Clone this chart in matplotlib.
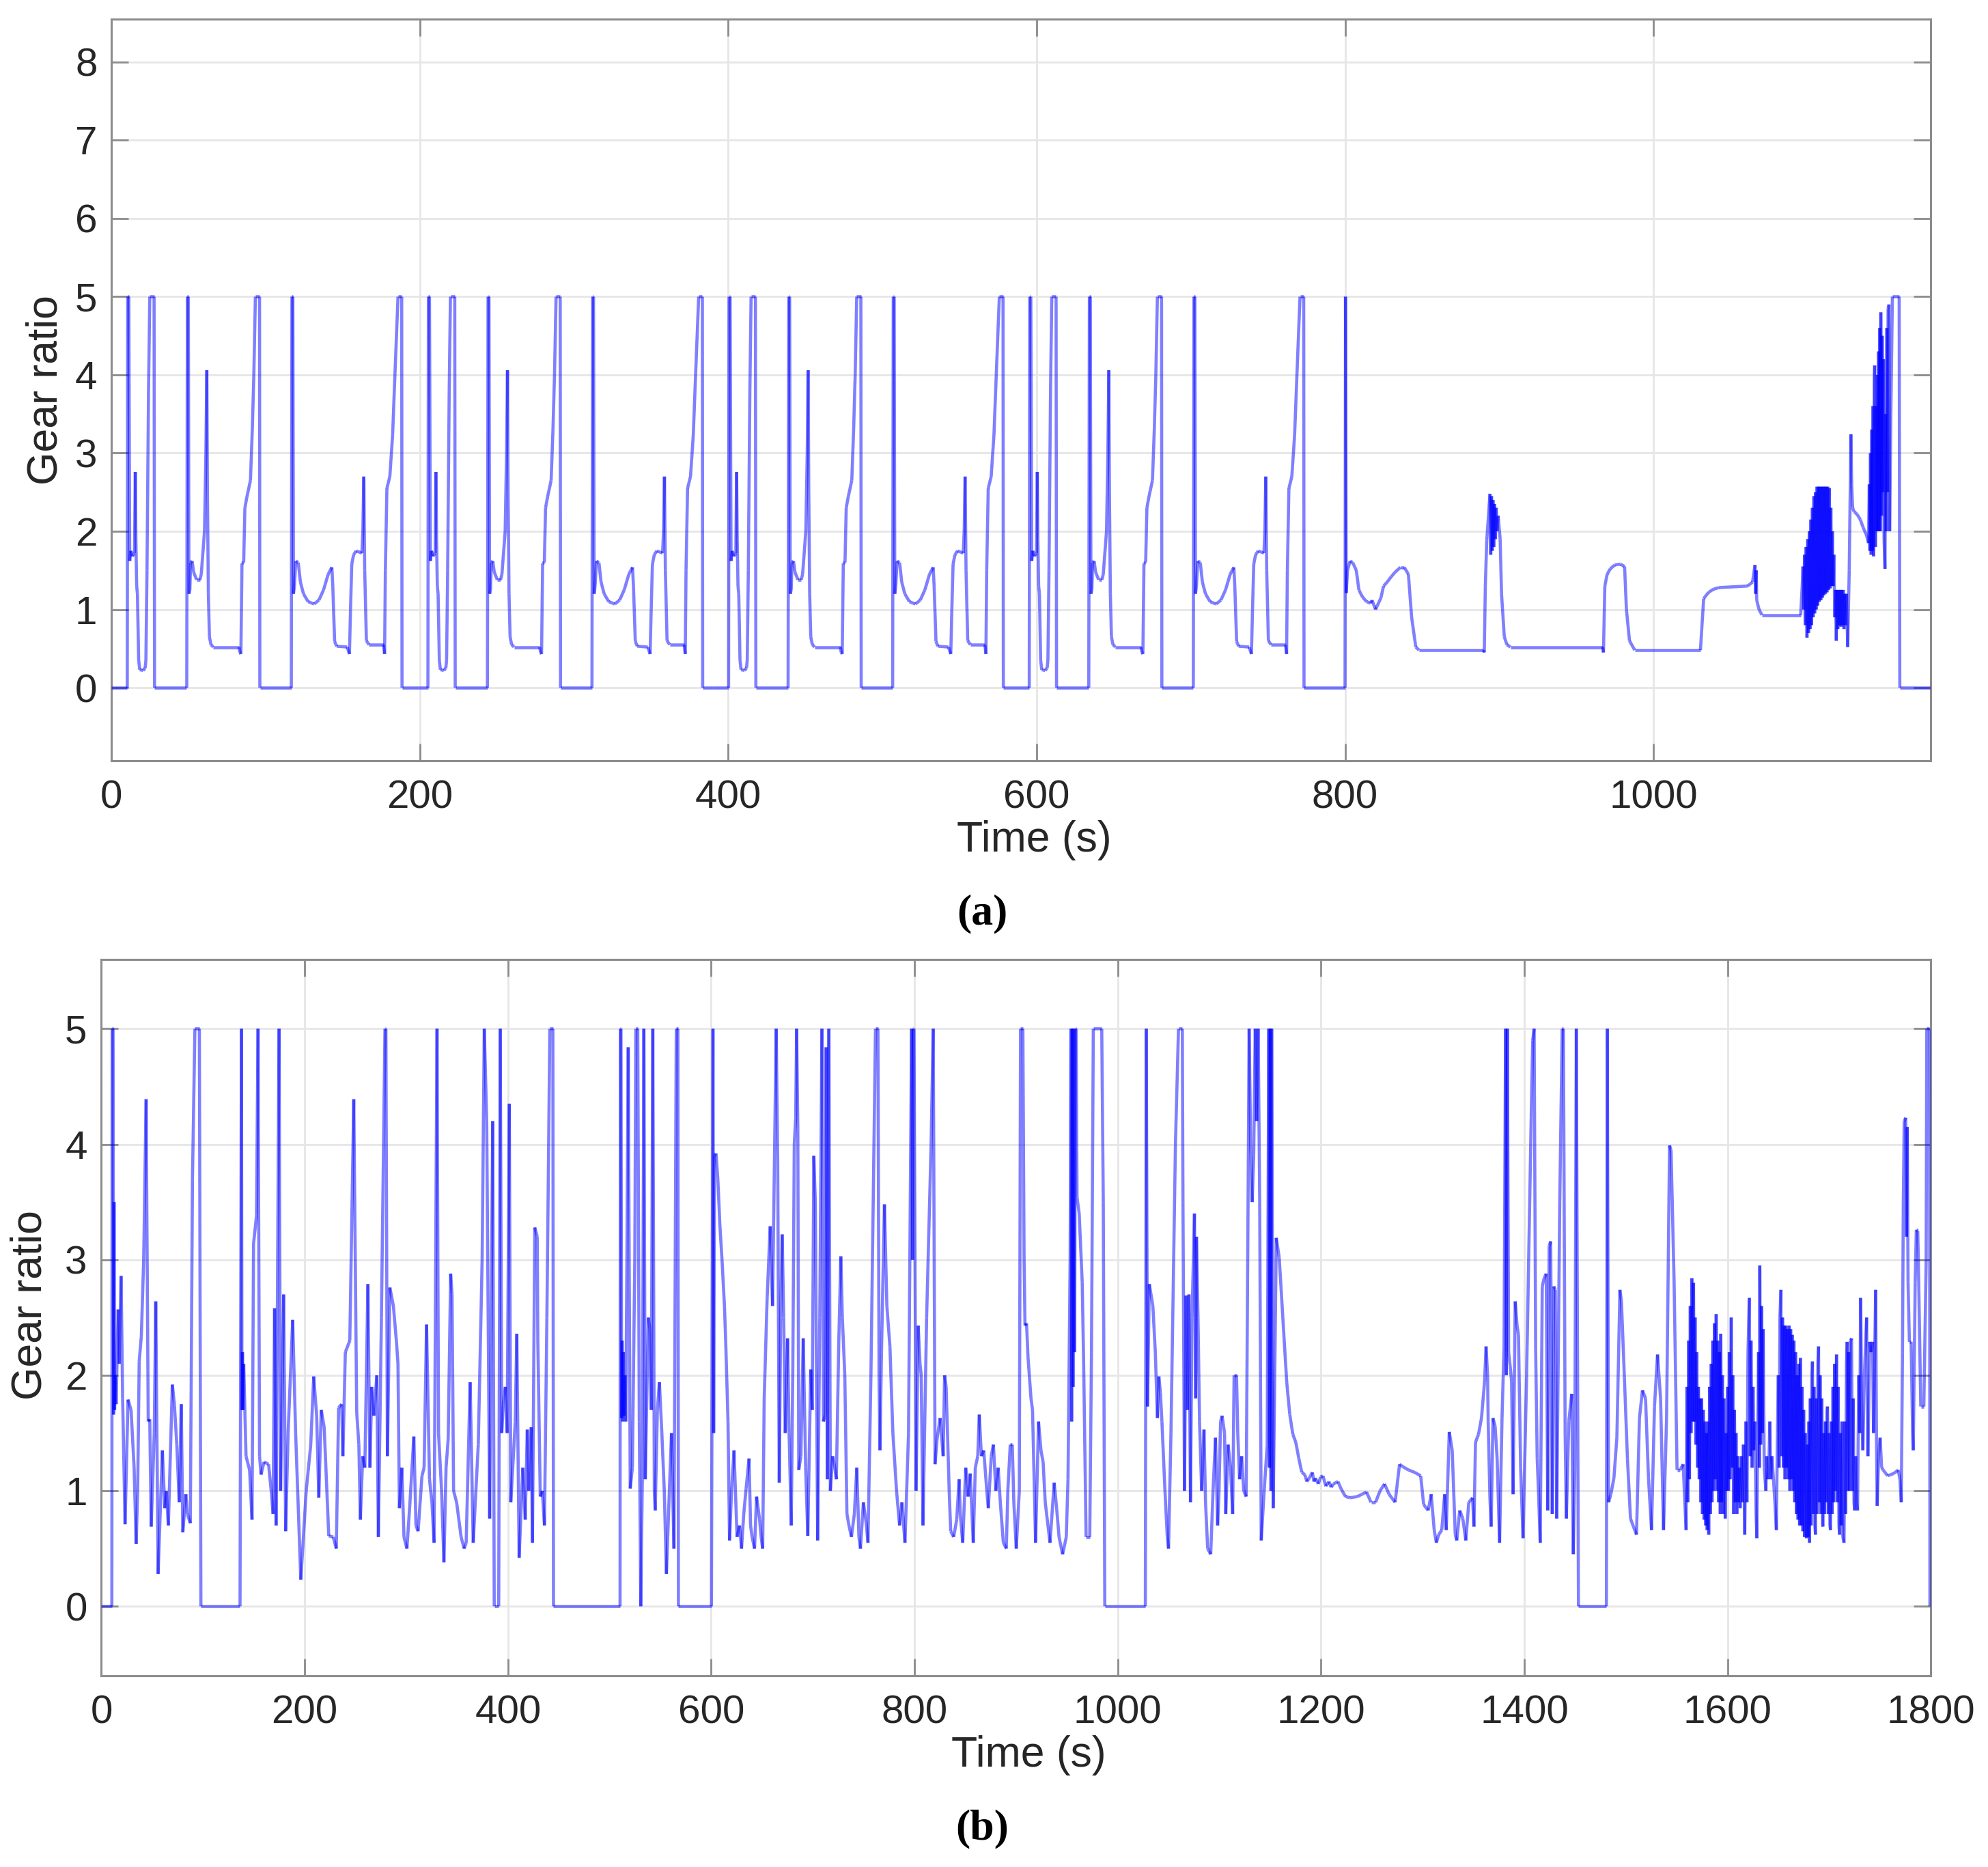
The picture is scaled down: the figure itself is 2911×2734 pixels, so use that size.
import numpy as np
import matplotlib.pyplot as plt
from matplotlib.collections import LineCollection

plt.rcParams['font.family'] = ['Liberation Sans', 'DejaVu Sans']

# ---- (a) NEDC: one urban (ECE) cycle, repeated 4x, then the extra-urban part
ece_cycle = [
    (0.0, 0), (10.2, 0), (10.5, 5), (11.2, 5), (11.8, 1.62), (12.5, 1.75), (13.5, 1.68),
    (14.9, 1.72), (15.4, 2.76), (15.8, 1.9), (16.3, 1.3), (16.8, 1.2), (17.6, 0.35),
    (18.3, 0.23), (20.5, 0.22), (21.8, 0.25), (22.3, 0.35), (23.0, 1.5), (24.0, 3.8),
    (24.8, 5), (27.6, 5), (27.9, 0), (48.8, 0), (49.2, 5), (49.8, 5), (50.2, 1.2),
    (50.8, 1.25), (51.3, 1.6), (52.3, 1.62), (53.2, 1.48), (55.2, 1.38), (57.3, 1.38),
    (58.2, 1.45), (60.3, 2.0), (61.2, 3.0), (61.8, 4.06), (62.2, 2.5), (62.8, 1.2),
    (63.5, 0.65), (64.5, 0.55), (66.0, 0.52), (82.7, 0.52), (83.3, 0.45), (83.9, 0.43),
    (84.6, 1.59), (85.7, 1.6), (86.5, 2.3), (87.9, 2.45), (90.1, 2.65), (91.3, 3.3),
    (92.3, 4.0), (93.3, 5), (96.0, 5), (96.2, 0), (116.6, 0), (117.0, 5), (117.6, 5),
    (118.0, 1.2), (118.6, 1.3), (119.5, 1.62), (121.1, 1.6), (122.5, 1.35), (124.5, 1.2),
    (127.5, 1.1), (131.4, 1.07), (134.5, 1.12), (137.5, 1.25), (140.5, 1.45),
    (142.9, 1.54), (143.5, 1.3), (144.7, 0.59), (146.0, 0.53), (152.8, 0.52),
    (154.3, 0.43), (155.0, 1.0), (155.8, 1.58), (157.0, 1.7), (158.7, 1.75),
    (162.4, 1.72), (163.0, 2.0), (163.6, 2.7), (164.2, 1.5), (165.3, 0.6), (167.0, 0.55),
    (176.4, 0.55), (177.1, 0.43), (177.6, 1.5), (178.6, 2.55), (180.5, 2.7),
    (182.3, 3.23), (183.8, 4.0), (185.8, 5), (188.2, 5), (188.4, 0), (195.0, 0),
]
ece_starts = [0, 195, 390, 585]

eudc = [
    (800.0, 0), (800.3, 5), (800.8, 1.21), (801.6, 1.5), (803.3, 1.62), (805.0, 1.6),
    (807.3, 1.5), (809.0, 1.25), (811.3, 1.16), (814.0, 1.1), (816.6, 1.08),
    (817.5, 1.12), (819.8, 1.0), (823.3, 1.15), (825.0, 1.3), (827.3, 1.35),
    (830.0, 1.42), (832.6, 1.48), (836.0, 1.54), (838.4, 1.54), (841.1, 1.45),
    (843.2, 0.9), (845.9, 0.52), (848.0, 0.48), (889.8, 0.48), (890.3, 0.45),
    (891.0, 1.3), (891.9, 1.88), (894.0, 2.48), (894.5, 1.7), (895.0, 2.45),
    (895.5, 1.75), (896.0, 2.4), (896.5, 1.8), (897.0, 2.35), (897.5, 1.9), (898.0, 2.3),
    (898.6, 2.0), (899.3, 2.2), (900.6, 1.9), (901.5, 1.2), (903.3, 0.65), (905.0, 0.55),
    (907.3, 0.52), (967.1, 0.52), (967.6, 0.45), (968.5, 1.3), (970.0, 1.45),
    (972.0, 1.52), (975.0, 1.57), (978.6, 1.58), (981.3, 1.55), (982.5, 1.0),
    (984.5, 0.6), (987.9, 0.48), (1030.5, 0.48), (1032.6, 1.14), (1035.8, 1.22),
    (1039.0, 1.26), (1042.5, 1.28), (1061.1, 1.3), (1064.3, 1.35), (1065.9, 1.57),
    (1066.3, 1.2), (1066.7, 1.5), (1067.0, 1.12), (1068.5, 1.0), (1070.4, 0.93),
    (1095.5, 0.93), (1096.5, 1.3), (1097.0, 1.55), (1097.5, 1.0), (1098.0, 1.7),
    (1098.5, 0.8), (1099.0, 1.8), (1099.6, 0.64), (1100.1, 1.9), (1100.6, 0.7),
    (1101.1, 2.0), (1101.6, 0.75), (1102.1, 2.15), (1102.6, 0.8), (1103.1, 2.3),
    (1103.6, 0.9), (1104.1, 2.45), (1104.6, 0.95), (1105.1, 2.5), (1105.6, 1.0),
    (1106.1, 2.57), (1106.6, 1.05), (1107.1, 2.57), (1107.6, 1.1), (1108.1, 2.57),
    (1108.6, 1.12), (1109.1, 2.57), (1109.6, 1.15), (1110.1, 2.57), (1110.6, 1.18),
    (1111.1, 2.57), (1111.6, 1.2), (1112.1, 2.57), (1112.6, 1.22), (1113.1, 2.57),
    (1113.6, 1.25), (1114.1, 2.55), (1114.6, 1.27), (1115.1, 2.3), (1115.6, 1.3),
    (1116.1, 2.0), (1116.6, 1.3), (1117.1, 1.7), (1117.6, 0.9), (1118.1, 1.25),
    (1118.6, 0.6), (1119.1, 1.25), (1119.6, 0.75), (1120.1, 1.25), (1120.6, 0.8),
    (1121.1, 1.25), (1121.6, 0.78), (1122.1, 1.25), (1122.6, 0.8), (1123.1, 1.25),
    (1123.6, 0.75), (1124.1, 1.2), (1124.6, 0.8), (1125.2, 1.2), (1126.0, 0.52),
    (1127.0, 1.5), (1128.1, 3.24), (1128.6, 2.6), (1129.2, 2.3), (1130.2, 2.25),
    (1132.0, 2.22), (1134.2, 2.15), (1136.0, 2.05), (1138.2, 1.95), (1139.5, 1.85),
    (1140.0, 2.6), (1140.4, 1.75), (1140.8, 3.0), (1141.2, 1.7), (1141.6, 3.3),
    (1142.0, 1.75), (1142.4, 3.6), (1142.8, 1.68), (1143.2, 3.9), (1143.5, 4.12),
    (1144.0, 1.8), (1144.4, 3.6), (1144.8, 2.0), (1145.2, 4.0), (1145.6, 2.0),
    (1146.0, 4.3), (1146.4, 2.0), (1146.8, 4.6), (1147.2, 2.0), (1147.5, 4.8),
    (1148.0, 2.2), (1148.4, 4.5), (1148.8, 2.5), (1149.2, 4.2), (1149.6, 1.9),
    (1150.2, 1.52), (1150.6, 3.5), (1151.0, 2.0), (1151.4, 4.6), (1151.8, 2.5),
    (1152.2, 4.85), (1152.8, 4.9), (1153.2, 2.0), (1154.0, 3.5), (1155.0, 5),
    (1159.4, 5), (1159.8, 0), (1180.0, 0),
]

# ---- (b) WLTC, read in four chunks
wltc_1 = [
    (0.0, 0), (10.3, 0), (10.6, 5), (11.5, 5), (12.0, 1.66), (12.5, 3.5), (13.0, 1.7),
    (13.5, 2.0), (14.5, 1.75), (16.5, 2.57), (17.5, 2.1), (19.4, 2.86), (20.9, 1.8),
    (23.3, 0.71), (26.2, 1.79), (29.2, 1.7), (32.2, 1.2), (34.2, 0.54), (35.7, 1.0),
    (37.2, 2.12), (39.3, 2.34), (41.6, 3.0), (44.0, 4.39), (46.1, 1.6), (47.6, 1.62),
    (49.0, 0.69), (52.0, 1.5), (53.5, 2.64), (55.8, 0.28), (60.0, 1.35), (62.4, 0.85),
    (63.8, 1.0), (65.9, 0.7), (69.8, 1.92), (71.8, 1.75), (74.2, 1.4), (76.6, 0.9),
    (78.6, 1.75), (80.1, 0.64), (83.1, 0.97), (84.6, 0.8), (87.5, 0.72), (89.6, 3.7),
    (92.0, 5), (96.4, 5), (97.9, 0), (136.4, 0), (137.8, 5), (138.3, 1.7), (138.8, 2.2),
    (139.3, 1.7), (140.0, 2.1), (142.3, 1.3), (145.8, 1.18), (148.2, 0.75),
    (149.7, 3.14), (152.6, 3.38), (154.1, 5), (155.6, 1.3), (157.1, 1.14), (160.0, 1.25),
    (164.5, 1.23), (167.4, 0.97), (168.9, 0.8), (170.4, 2.58), (171.9, 0.7),
    (173.4, 3.0), (174.8, 5), (176.3, 1.0), (179.3, 2.7), (181.3, 0.65), (183.7, 1.5),
    (188.2, 2.48), (191.1, 1.5), (196.2, 0.23), (201.5, 1.0), (205.9, 1.39),
    (208.9, 1.99), (211.8, 1.65), (213.9, 0.94), (216.3, 1.7), (219.2, 1.55),
    (223.7, 0.61), (228.1, 0.6), (231.1, 0.5), (233.4, 1.72), (236.4, 1.75),
    (237.6, 1.3), (240.0, 2.2), (244.4, 2.3), (248.3, 4.39), (251.2, 1.68), (253.3, 1.4),
    (254.8, 0.75), (257.1, 1.3), (259.2, 1.2), (262.2, 2.79), (264.2, 1.2), (266.0, 1.9),
    (268.1, 1.65), (271.0, 2.0), (272.5, 0.6), (275.5, 2.5), (279.0, 5), (279.9, 5),
    (281.4, 1.3), (283.8, 2.76), (287.3, 2.6), (290.3, 2.29), (291.8, 2.1),
    (293.2, 0.85), (295.6, 1.2), (297.7, 0.6), (300.6, 0.5), (303.6, 0.9), (307.4, 1.47),
    (309.5, 0.7), (311.6, 0.65), (315.4, 1.13), (317.5, 1.2), (319.9, 2.44),
    (322.8, 1.1), (325.2, 0.9), (327.3, 0.55), (330.2, 5), (331.7, 1.5), (334.7, 1.0),
    (337.0, 0.38), (339.1, 1.2), (341.2, 1.45), (343.6, 2.88), (345.0, 2.7),
    (346.5, 1.0), (349.5, 0.9), (353.9, 0.6), (356.9, 0.5), (358.9, 0.55),
    (362.8, 1.94), (365.8, 0.55), (370.8, 1.4), (374.6, 3.0), (376.7, 5), (379.1, 4.2),
    (382.0, 0.76), (385.0, 4.2), (386.5, 0), (390.9, 0), (392.4, 5), (393.9, 1.5),
    (395.4, 1.75), (397.4, 1.9), (399.2, 1.5), (401.3, 4.35), (402.8, 0.9),
    (407.2, 1.6), (408.7, 2.36), (411.0, 0.42), (414.6, 1.2), (417.0, 0.75),
    (419.0, 1.53), (420.5, 1.0), (422.9, 1.55), (424.1, 0.55), (426.4, 3.28),
    (428.8, 3.2), (429.4, 2.3), (431.8, 0.95), (433.8, 1.0), (435.9, 0.7), (438.3, 2.5),
    (441.2, 5), (444.2, 5), (444.8, 0),
]
wltc_2 = [
    (510.3, 0), (510.6, 5), (511.2, 5), (511.8, 1.63), (512.3, 2.3), (512.8, 1.6),
    (513.5, 2.2), (514.2, 1.65), (515.2, 2.0), (515.9, 1.6), (517.0, 3.0), (518.3, 4.84),
    (520.3, 1.02), (522.4, 1.2), (524.8, 3.0), (525.8, 5), (527.7, 5), (529.2, 1.6),
    (530.7, 0), (532.2, 1.1), (533.7, 5), (535.1, 1.1), (538.1, 2.5), (539.6, 2.4),
    (541.0, 1.7), (542.5, 5), (544.0, 1.0), (544.9, 0.83), (547.0, 1.7), (549.0, 1.94),
    (551.4, 1.5), (553.8, 1.0), (555.9, 0.28), (558.8, 1.0), (560.9, 1.5), (563.3, 0.5),
    (565.6, 5), (567.2, 5), (567.7, 0), (600.2, 0), (601.7, 5), (602.4, 1.5),
    (603.2, 3.9), (604.7, 3.92), (606.5, 3.7), (608.5, 3.3), (610.6, 3.0), (613.0, 2.6),
    (614.2, 2.3), (616.5, 1.6), (618.0, 0.57), (620.0, 1.0), (622.4, 1.35),
    (625.4, 0.6), (627.8, 0.7), (629.8, 0.5), (632.0, 0.8), (634.3, 1.02), (637.2, 1.28),
    (638.7, 0.7), (640.2, 0.6), (642.6, 0.5), (644.6, 0.95), (647.6, 0.75),
    (649.1, 0.6), (650.6, 0.5), (652.1, 1.8), (655.0, 2.67), (658.0, 3.29), (660.3, 2.6),
    (662.4, 4.0), (663.9, 5), (665.4, 3.85), (666.9, 1.07), (668.3, 2.5), (669.8, 3.22),
    (671.3, 2.5), (672.8, 1.5), (675.1, 2.32), (676.6, 1.5), (678.7, 0.7), (680.2, 2.0),
    (681.7, 4.0), (683.1, 4.23), (684.0, 5), (685.2, 4.13), (686.1, 1.18), (688.2, 1.3),
    (690.5, 2.32), (692.9, 1.2), (695.0, 0.61), (697.9, 2.05), (699.4, 1.7),
    (700.9, 3.9), (702.4, 3.5), (704.7, 0.57), (706.8, 2.5), (708.9, 5), (710.4, 1.6),
    (712.1, 1.66), (713.0, 4.84), (714.2, 1.1), (715.7, 5), (717.2, 1.0), (719.5, 1.3),
    (721.6, 1.2), (723.1, 1.1), (725.5, 2.3), (727.5, 3.03), (729.0, 2.5), (731.4, 2.0),
    (733.5, 0.8), (735.5, 0.7), (737.9, 0.6), (740.8, 0.8), (743.2, 1.2), (745.3, 0.6),
    (746.8, 0.5), (749.7, 0.9), (752.7, 0.7), (754.2, 0.55), (757.1, 2.0), (761.6, 5),
    (764.0, 5), (765.1, 2.0), (766.0, 1.35), (767.5, 2.2), (770.4, 3.48), (772.8, 2.6),
    (775.8, 2.25), (778.7, 1.5), (782.3, 1.0), (785.3, 0.7), (787.6, 0.9), (790.6, 0.55),
    (794.1, 1.5), (797.1, 5), (798.0, 3.0), (798.8, 5), (799.5, 5), (801.5, 1.0),
    (803.6, 2.43), (805.4, 2.1), (806.6, 2.0), (808.3, 0.7), (811.9, 2.5), (816.3, 4.0),
    (818.4, 5), (820.2, 1.23), (822.2, 1.45), (825.2, 1.63), (828.2, 1.3), (829.6, 2.0),
    (831.1, 1.9), (834.1, 1.0), (835.6, 0.65), (838.5, 0.6), (841.5, 0.75),
    (843.9, 1.1), (845.0, 0.8), (847.4, 0.55), (850.4, 1.2), (852.7, 0.95),
    (854.8, 1.15), (857.8, 0.55), (859.8, 1.2), (862.2, 1.3), (863.7, 1.66),
    (865.8, 1.3), (868.1, 1.35), (871.1, 1.0), (872.6, 0.85), (875.5, 1.3), (877.6, 1.4),
    (880.0, 1.0), (882.3, 1.2), (884.4, 0.9), (887.4, 0.55), (890.3, 0.5), (891.8, 1.0),
    (894.2, 1.4), (896.2, 1.4), (897.7, 0.9), (900.1, 0.5), (903.1, 1.0),
]
wltc_3 = [
    (904.3, 5), (906.6, 5), (907.8, 3.0), (908.7, 2.43), (910.2, 2.45), (911.7, 2.15),
    (914.6, 1.8), (916.1, 1.7), (919.1, 0.55), (922.0, 1.6), (924.4, 1.35),
    (926.5, 1.25), (928.6, 0.9), (933.3, 0.55), (937.4, 1.07), (939.8, 0.85),
    (942.2, 0.6), (945.7, 0.45), (949.3, 0.6), (951.0, 1.1), (953.1, 3.0), (954.0, 5),
    (954.6, 1.6), (955.3, 5), (956.0, 1.9), (956.8, 5), (957.5, 2.2), (958.3, 5),
    (959.0, 5), (959.9, 3.54), (962.0, 3.4), (963.5, 3.1), (965.0, 2.8), (966.4, 2.1),
    (968.8, 0.6), (972.4, 0.6), (974.1, 2.2), (975.9, 5), (984.2, 5), (985.7, 3.5),
    (987.2, 0), (1027.1, 0), (1028.0, 5), (1029.2, 1.73), (1031.0, 2.79), (1034.5, 2.6),
    (1036.9, 2.2), (1039.0, 1.63), (1040.4, 1.99), (1041.9, 1.85), (1043.4, 1.6),
    (1046.4, 1.0), (1048.7, 0.6), (1049.9, 0.5), (1052.3, 1.5), (1056.7, 4.0),
    (1059.7, 5), (1063.5, 5), (1064.1, 3.5), (1065.6, 1.0), (1067.1, 2.69),
    (1068.6, 1.7), (1070.0, 2.7), (1071.5, 0.9), (1073.0, 2.5), (1075.4, 3.4),
    (1076.6, 1.8), (1077.4, 3.2), (1078.9, 2.5), (1080.4, 1.6), (1082.5, 1.0),
    (1084.8, 1.53), (1086.3, 0.9), (1088.4, 0.5), (1091.4, 0.45), (1093.7, 1.0),
    (1096.1, 1.46), (1098.2, 0.7), (1099.6, 1.0), (1101.1, 1.6), (1102.6, 1.65),
    (1105.0, 1.5), (1106.2, 0.8), (1108.5, 1.4), (1110.9, 1.2), (1113.0, 0.8),
    (1114.4, 2.0), (1116.8, 2.0), (1118.0, 1.5), (1119.8, 1.1), (1121.8, 1.3),
    (1123.9, 1.0), (1126.3, 0.95), (1127.8, 3.0), (1129.2, 5), (1130.7, 4.0),
    (1132.2, 3.5), (1133.7, 3.9), (1135.2, 5), (1136.6, 4.2), (1138.1, 5), (1139.6, 3.5),
    (1141.1, 0.57), (1144.0, 1.0), (1145.5, 1.2), (1147.0, 1.4), (1148.5, 5),
    (1149.2, 1.2), (1150.0, 5), (1150.7, 1.0), (1151.4, 5), (1152.9, 0.85), (1154.4, 2.0),
    (1155.9, 3.19), (1158.8, 3.02), (1163.3, 2.36), (1166.2, 1.94), (1169.2, 1.66),
    (1172.2, 1.49), (1175.1, 1.42), (1178.1, 1.28), (1181.0, 1.16), (1184.0, 1.14),
    (1186.0, 1.08), (1188.4, 1.11), (1191.4, 1.16), (1193.0, 1.08), (1194.4, 1.11),
    (1197.3, 1.06), (1199.5, 1.12), (1201.8, 1.13), (1204.7, 1.04), (1207.7, 1.08),
    (1210.0, 1.03), (1212.1, 1.06), (1216.6, 1.08), (1219.5, 1.02), (1224.0, 0.95),
    (1228.4, 0.94), (1235.8, 0.95), (1240.2, 0.97), (1244.7, 0.99), (1249.1, 0.9),
    (1253.6, 0.9), (1258.0, 1.0), (1262.4, 1.06), (1266.9, 0.97), (1272.8, 0.9),
    (1277.2, 1.23), (1280.2, 1.21), (1286.1, 1.18), (1292.0, 1.16), (1298.0, 1.13),
    (1300.9, 0.88), (1305.4, 0.83), (1308.3, 0.97), (1311.3, 0.66), (1313.4, 0.55),
    (1315.7, 0.62), (1318.7, 0.66), (1321.6, 0.97), (1323.1, 0.66), (1326.1, 1.51),
    (1329.0, 1.35), (1332.0, 0.62), (1333.5, 0.57), (1336.4, 0.83), (1339.4, 0.76),
    (1342.4, 0.57), (1345.3, 0.9),
]
wltc_4 = [
    (1349.0, 0.94), (1350.4, 0.69), (1351.9, 1.42), (1354.9, 1.49), (1357.8, 1.63),
    (1360.8, 1.94), (1362.3, 2.25), (1363.8, 2.0), (1364.4, 1.6), (1366.1, 0.94),
    (1367.3, 0.69), (1369.1, 1.63), (1371.2, 1.56), (1373.2, 1.28), (1375.6, 0.55),
    (1378.0, 1.63), (1380.0, 2.25), (1381.5, 5), (1382.2, 2.0), (1383.3, 5),
    (1384.5, 2.2), (1386.0, 2.08), (1387.4, 1.95), (1388.9, 0.97), (1391.0, 2.64),
    (1392.8, 2.43), (1394.2, 2.35), (1396.3, 1.2), (1398.7, 0.59), (1402.2, 2.0),
    (1406.7, 4.23), (1408.2, 4.9), (1409.6, 5), (1411.1, 2.22), (1412.6, 1.28),
    (1414.1, 0.94), (1415.6, 0.55), (1417.6, 2.77), (1419.4, 2.84), (1421.5, 2.88),
    (1423.0, 0.83), (1424.4, 3.12), (1425.9, 3.16), (1427.4, 0.8), (1428.9, 2.77),
    (1430.4, 2.74), (1431.8, 0.76), (1434.8, 3.5), (1437.2, 5), (1438.4, 5),
    (1440.1, 1.5), (1441.3, 0.76), (1443.7, 1.6), (1446.6, 1.84), (1448.1, 0.45),
    (1449.6, 1.2), (1451.1, 5), (1453.2, 0), (1480.7, 0), (1481.6, 5), (1482.8, 0.9),
    (1485.1, 0.97), (1488.1, 1.11), (1491.0, 1.46), (1494.0, 2.74), (1495.5, 2.64),
    (1498.4, 1.98), (1501.4, 1.28), (1504.4, 0.76), (1507.3, 0.69), (1510.3, 0.62),
    (1513.2, 1.63), (1516.2, 1.87), (1519.2, 1.8), (1522.1, 1.11), (1525.1, 0.66),
    (1528.0, 1.73), (1531.0, 2.18), (1534.0, 1.8), (1536.9, 0.66), (1539.9, 1.63),
    (1541.4, 2.84), (1542.8, 3.99), (1544.3, 3.95), (1547.3, 2.81), (1550.2, 1.18),
    (1553.2, 1.18), (1556.2, 1.23), (1559.1, 0.66), (1560.0, 1.9), (1560.8, 0.9),
    (1561.6, 2.3), (1562.4, 1.1), (1563.2, 2.6), (1564.0, 1.5), (1564.8, 2.84),
    (1565.6, 1.6), (1566.4, 2.8), (1567.2, 1.6), (1568.0, 2.5), (1568.8, 1.4),
    (1569.6, 2.2), (1570.4, 1.2), (1571.2, 1.9), (1572.0, 1.1), (1572.8, 1.8),
    (1573.6, 0.9), (1574.4, 1.8), (1575.2, 0.8), (1576.0, 1.7), (1576.8, 0.75),
    (1577.6, 1.6), (1578.4, 0.7), (1579.2, 1.5), (1579.8, 0.66), (1580.6, 1.6),
    (1581.4, 0.62), (1582.2, 1.9), (1583.0, 0.8), (1583.8, 2.1), (1584.6, 0.9),
    (1585.4, 2.3), (1586.2, 1.0), (1587.0, 2.45), (1587.8, 1.1), (1588.7, 2.53),
    (1589.5, 1.0), (1590.3, 2.3), (1591.1, 0.9), (1591.9, 2.2), (1592.7, 0.8),
    (1593.2, 2.36), (1594.0, 0.9), (1594.8, 2.0), (1595.6, 0.8), (1596.4, 1.8),
    (1597.6, 0.76), (1598.4, 1.5), (1599.2, 1.0), (1600.0, 1.9), (1600.8, 1.0),
    (1601.6, 2.2), (1602.4, 1.1), (1603.5, 2.5), (1604.3, 1.2), (1605.1, 2.0),
    (1605.9, 0.8), (1606.7, 1.7), (1607.5, 0.9), (1608.3, 1.5), (1609.1, 0.8),
    (1609.9, 1.3), (1610.7, 0.9), (1611.5, 1.2), (1612.3, 0.85), (1613.5, 1.3),
    (1614.5, 0.9), (1615.5, 1.4), (1616.8, 0.62), (1618.0, 1.6), (1619.0, 0.9),
    (1620.0, 2.2), (1621.3, 2.67), (1622.2, 1.3), (1623.0, 2.3), (1624.0, 1.2),
    (1625.0, 1.9), (1625.7, 1.35), (1626.8, 1.6), (1628.0, 0.8), (1628.7, 0.59),
    (1629.6, 1.5), (1630.4, 2.2), (1631.2, 1.2), (1631.6, 2.95), (1632.5, 1.4),
    (1633.4, 2.6), (1634.2, 1.5), (1634.9, 2.4), (1636.0, 1.2), (1637.6, 1.0),
    (1638.5, 1.3), (1639.4, 1.1), (1640.5, 1.18), (1641.5, 1.6), (1642.5, 1.1),
    (1643.5, 1.3), (1645.0, 1.11), (1646.5, 0.9), (1647.9, 0.66), (1649.0, 1.5),
    (1649.8, 2.0), (1650.6, 1.2), (1651.4, 2.5), (1652.4, 2.74), (1653.2, 1.3),
    (1654.0, 2.5), (1654.8, 1.2), (1655.6, 2.43), (1656.4, 1.1), (1657.2, 2.43),
    (1658.0, 1.2), (1658.8, 2.4), (1659.6, 1.1), (1660.4, 2.43), (1661.2, 1.0),
    (1662.0, 2.4), (1662.8, 1.1), (1663.6, 2.35), (1664.4, 1.0), (1665.2, 2.3),
    (1666.0, 0.9), (1666.8, 2.2), (1667.6, 0.8), (1668.4, 2.0), (1669.2, 0.75),
    (1670.0, 2.1), (1670.8, 0.7), (1671.6, 2.15), (1672.4, 0.7), (1673.2, 1.9),
    (1674.0, 0.65), (1674.8, 1.7), (1675.6, 0.6), (1676.4, 1.5), (1677.5, 0.59),
    (1678.3, 1.4), (1679.1, 0.6), (1679.9, 1.6), (1680.5, 0.55), (1681.3, 1.8),
    (1682.1, 0.7), (1682.9, 2.0), (1683.4, 2.12), (1684.2, 0.8), (1685.0, 1.9),
    (1685.8, 0.7), (1686.4, 0.62), (1687.2, 1.8), (1688.0, 0.8), (1688.8, 2.1),
    (1689.4, 2.25), (1690.2, 0.9), (1691.0, 2.0), (1691.8, 0.8), (1692.6, 1.8),
    (1693.4, 0.7), (1693.8, 0.69), (1694.6, 1.5), (1695.4, 0.8), (1696.2, 1.6),
    (1697.0, 0.9), (1697.8, 1.7), (1698.2, 1.73), (1699.0, 0.8), (1699.8, 1.5),
    (1700.6, 0.7), (1701.2, 0.66), (1702.0, 1.6), (1702.8, 0.8), (1703.6, 1.9),
    (1704.4, 0.9), (1705.2, 2.1), (1706.0, 1.0), (1707.1, 2.18), (1707.9, 0.9),
    (1708.7, 1.9), (1709.5, 0.7), (1710.1, 0.62), (1710.9, 1.5), (1711.7, 0.7),
    (1712.5, 1.6), (1713.3, 0.6), (1714.5, 0.55), (1715.3, 1.6), (1716.1, 0.8),
    (1716.9, 2.1), (1717.5, 2.29), (1718.3, 1.0), (1719.1, 2.2), (1719.9, 1.0),
    (1720.7, 2.3), (1721.9, 2.32), (1722.7, 1.0), (1723.5, 1.8), (1724.3, 0.9),
    (1724.9, 0.83), (1726.0, 1.3), (1727.0, 0.9), (1727.8, 0.83), (1729.0, 2.0),
    (1730.0, 1.5), (1730.8, 2.67), (1731.8, 1.8), (1733.0, 1.35), (1734.5, 2.0),
    (1736.7, 2.5), (1738.0, 1.3), (1739.7, 2.29), (1741.0, 2.2), (1742.6, 2.29),
    (1743.5, 1.5), (1745.6, 2.74), (1746.4, 1.5), (1747.1, 0.87), (1748.5, 1.3),
    (1750.0, 1.46), (1751.5, 1.2), (1753.0, 1.18), (1757.4, 1.13), (1763.4, 1.15),
    (1767.8, 1.18), (1769.5, 1.1), (1770.8, 0.9), (1772.0, 2.2), (1772.8, 3.5),
    (1773.7, 4.2), (1775.2, 4.23), (1776.0, 3.2), (1776.7, 4.15), (1777.5, 2.8),
    (1778.8, 2.29), (1780.5, 2.29), (1782.0, 1.5), (1782.6, 1.35), (1784.5, 2.8),
    (1785.6, 3.26), (1787.0, 3.25), (1787.6, 3.0), (1790.0, 1.73), (1793.0, 1.73),
    (1795.3, 3.0), (1795.9, 5), (1798.6, 5), (1799.0, 0), (1800.0, 0),
]


def draw_trace(ax, pts):
    pts = np.asarray(pts, dtype=float)
    segs = np.stack([pts[:-1], pts[1:]], axis=1)
    lc = LineCollection(segs, colors=[(0.0, 0.0, 1.0, 0.5)], linewidths=3.3,
                        capstyle='butt', zorder=3)
    ax.add_collection(lc)


def style_axes(ax, xmax, ylim, yticks):
    ax.set_xlim(0, xmax)
    ax.set_ylim(*ylim)
    ax.set_xticks(np.arange(0, xmax + 1, 200))
    ax.set_yticks(yticks)
    ax.grid(True, color='#e6e6e6', linewidth=2)
    ax.set_axisbelow(True)
    ax.tick_params(direction='in', length=18, width=2, color='#8c8c8c',
                   labelsize=42, labelcolor='#262626', top=True, right=True)
    ax.tick_params(axis='x', pad=20)
    ax.tick_params(axis='y', pad=15)
    for s in ax.spines.values():
        s.set_color('#8c8c8c')
        s.set_linewidth(2.2)


# stitch the NEDC trace
nedc = []
for start in ece_starts:
    nedc += [(t + start, g) for t, g in ece_cycle]
nedc += eudc

wltc = wltc_1 + wltc_2 + wltc_3 + wltc_4

fig = plt.figure(figsize=(29.11, 27.34), dpi=100)
ax_a = fig.add_axes([0.0561, 0.5927, 0.9152, 0.3971])
ax_b = fig.add_axes([0.0510, 0.1025, 0.9203, 0.3836])

draw_trace(ax_a, nedc)
style_axes(ax_a, 1180, (-0.93, 8.55), range(0, 9))
draw_trace(ax_b, wltc)
style_axes(ax_b, 1800, (-0.6, 5.6), range(0, 6))

for ax, ylab_x, ylab_y, xlab_y in [(ax_a, -0.0362, 0.50, -0.108),
                                   (ax_b, -0.039, 0.517, -0.1115)]:
    ax.set_ylabel('Gear ratio', fontsize=45, color='#262626', va='center')
    ax.yaxis.set_label_coords(ylab_x, ylab_y)
    ax.set_xlabel('Time (s)', fontsize=45, color='#262626', va='center')
    ax.xaxis.set_label_coords(0.507, xlab_y)

fig.text(0.494, 0.5105, '(a)', fontsize=46, family='Liberation Serif',
         weight='bold', ha='center', va='center')
fig.text(0.494, 0.0204, '(b)', fontsize=46, family='Liberation Serif',
         weight='bold', ha='center', va='center')

fig.savefig('out.png', dpi=100)
